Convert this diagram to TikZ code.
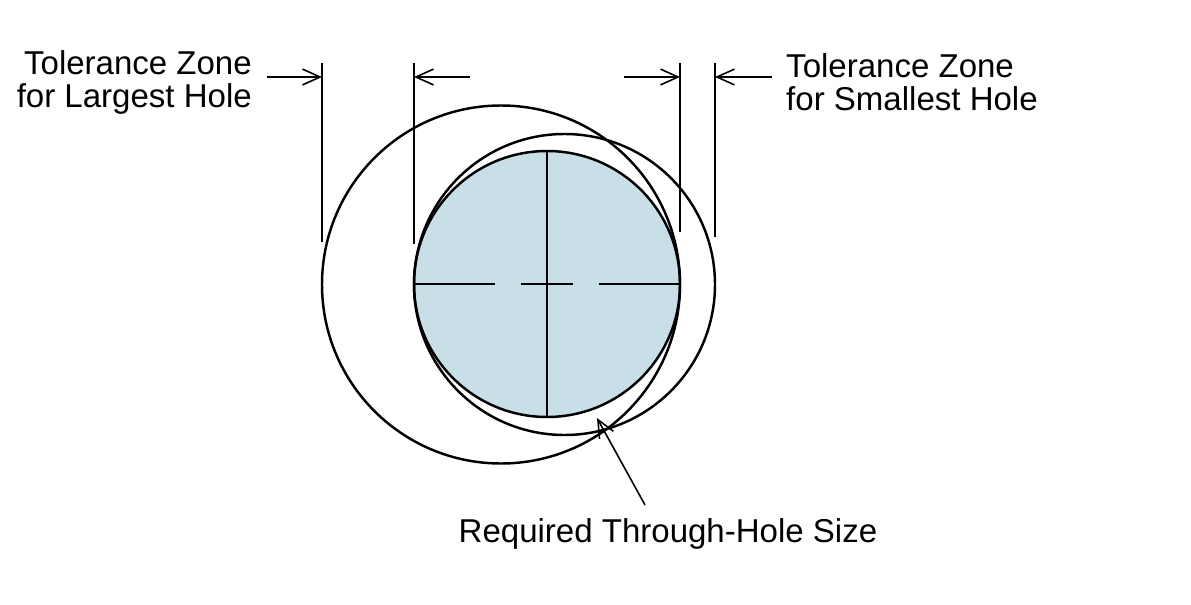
\documentclass[tikz,border=0pt]{standalone}
\usepackage{fontspec}
\setmainfont{Liberation Sans}
\usetikzlibrary{arrows.meta}
\begin{document}
\begin{tikzpicture}[x=0.02cm,y=-0.02cm,line width=1.4pt,
  dim/.style={line width=0.9pt,-{Straight Barb[length=10pt,width=9pt,line width=0.9pt]}},
  ext/.style={line width=1.3pt},
  lbl/.style={font=\fontsize{18.8}{18.8}\selectfont,inner sep=0pt,align=#1},
  lbl/.default=left]
\useasboundingbox (0,0) rectangle (1191,605);
\fill[fill={rgb,255:red,200;green,223;blue,232}] (547,284) circle[radius=133];
\draw (547,284) circle[radius=133];
\draw (501,284.5) circle[radius=179];
\draw (564.5,284.5) circle[radius=150.5];
\draw[line width=0.9pt] (414,284)--(495,284) (521,284)--(573,284) (599,284)--(680,284);
\draw[line width=0.9pt] (547,151)--(547,417);
\coordinate (v1t) at (322,63); \coordinate (v1b) at (322,242);
\coordinate (v2t) at (414,63); \coordinate (v2b) at (414,244);
\coordinate (v3t) at (680,63); \coordinate (v3b) at (680,232);
\coordinate (v4t) at (715,63); \coordinate (v4b) at (715,237);
\draw[ext] (v1t)--(v1b) (v2t)--(v2b) (v3t)--(v3b) (v4t)--(v4b);
\coordinate (a1) at (267,77); \coordinate (a1e) at (322,77);
\coordinate (a2) at (470,77); \coordinate (a2e) at (414,77);
\coordinate (a3) at (624,77); \coordinate (a3e) at (680,77);
\coordinate (a4) at (772,77); \coordinate (a4e) at (715,77);
\draw[dim] (a1)--(a1e);
\draw[dim] (a2)--(a2e);
\draw[dim] (a3)--(a3e);
\draw[dim] (a4)--(a4e);
\node[lbl=right,anchor=east] (tl) at (253,82) {Tolerance Zone\\for Largest Hole};
\node[lbl=left,anchor=west] (tr) at (785,82) {Tolerance Zone\\for Smallest Hole};
\node[lbl=center,anchor=center] (req) at (668,534) {Required Through-Hole Size};
\coordinate (rq) at (645,505);
\coordinate (rc) at (597,418);
\draw[dim] (rq)--(rc);
\end{tikzpicture}
\end{document}
